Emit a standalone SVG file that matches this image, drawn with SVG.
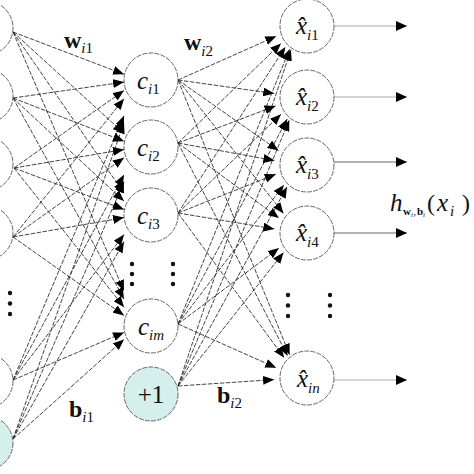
<svg xmlns="http://www.w3.org/2000/svg" width="474" height="474" viewBox="0 0 474 474">
<style>
text{font-family:"Liberation Serif","Times New Roman",serif;fill:#111}
.n{fill:#fff;stroke:#555;stroke-width:0.9;stroke-dasharray:5 1.2}
.bias{fill:#d5efed}
.e{stroke:#222;stroke-width:0.85;stroke-dasharray:4.5 1.5;fill:none;marker-end:url(#ah)}
.o{stroke:#aaa;stroke-width:1;fill:none;marker-end:url(#oa)}
.od{stroke:#666}
.v{font-style:italic;font-size:25px}
.s{font-style:italic;font-size:15px}
.sn{font-style:normal;font-size:15px}
.bw{font-weight:bold;font-size:24px}
.dot{fill:#111}
</style>
<defs>
<marker id="ah" markerUnits="userSpaceOnUse" viewBox="0 0 11 9" markerWidth="11" markerHeight="9" refX="11" refY="4.5" orient="auto"><path d="M0,0 L11,4.5 L0,9 z" fill="#000"/></marker>
<marker id="oa" markerUnits="userSpaceOnUse" viewBox="0 0 11 10" markerWidth="11" markerHeight="10" refX="11" refY="5" orient="auto"><path d="M0,0 L11,5 L0,10 z" fill="#000"/></marker>
</defs>
<g id="connectors">
<g id="layer1">
<line class="e" x1="13" y1="32" x2="124" y2="74.3"/>
<line class="e" x1="13" y1="98" x2="124" y2="82.1"/>
<line class="e" x1="14" y1="168" x2="124" y2="90.5"/>
<line class="e" x1="13" y1="237" x2="124" y2="98.7"/>
<line class="e" x1="13" y1="380" x2="124" y2="115.7"/>
<line class="e" x1="13" y1="439" x2="124" y2="122.7"/>
<line class="e" x1="13" y1="32" x2="124" y2="133.3"/>
<line class="e" x1="13" y1="98" x2="124" y2="141.2"/>
<line class="e" x1="14" y1="168" x2="124" y2="149.5"/>
<line class="e" x1="13" y1="237" x2="124" y2="157.7"/>
<line class="e" x1="13" y1="380" x2="124" y2="174.7"/>
<line class="e" x1="13" y1="439" x2="124" y2="181.7"/>
<line class="e" x1="13" y1="32" x2="124" y2="193.2"/>
<line class="e" x1="13" y1="98" x2="124" y2="201.1"/>
<line class="e" x1="14" y1="168" x2="124" y2="209.4"/>
<line class="e" x1="13" y1="237" x2="124" y2="217.6"/>
<line class="e" x1="13" y1="380" x2="124" y2="234.6"/>
<line class="e" x1="13" y1="439" x2="124" y2="241.7"/>
<line class="e" x1="13" y1="32" x2="124" y2="291"/>
<line class="e" x1="13" y1="98" x2="124" y2="298.9"/>
<line class="e" x1="14" y1="168" x2="124" y2="307.2"/>
<line class="e" x1="13" y1="237" x2="124" y2="315.4"/>
<line class="e" x1="13" y1="380" x2="124" y2="332.4"/>
<line class="e" x1="13" y1="439" x2="124" y2="339.4"/>
</g>
<g id="layer2">
<line class="e" x1="178" y1="80" x2="276.2" y2="36.2"/>
<line class="e" x1="178" y1="143" x2="281" y2="43.4"/>
<line class="e" x1="178" y1="213" x2="285.4" y2="47"/>
<line class="e" x1="178" y1="324" x2="289.6" y2="49.2"/>
<line class="e" x1="178" y1="386" x2="291" y2="49.7"/>
<line class="e" x1="178" y1="80" x2="274.2" y2="93.5"/>
<line class="e" x1="178" y1="143" x2="275.6" y2="105.9"/>
<line class="e" x1="178" y1="213" x2="281" y2="114.3"/>
<line class="e" x1="178" y1="324" x2="287.2" y2="119.1"/>
<line class="e" x1="178" y1="386" x2="289.3" y2="120.1"/>
<line class="e" x1="178" y1="80" x2="278.5" y2="150.6"/>
<line class="e" x1="178" y1="143" x2="274.4" y2="160.5"/>
<line class="e" x1="178" y1="213" x2="275.8" y2="174.2"/>
<line class="e" x1="178" y1="324" x2="283.9" y2="184.9"/>
<line class="e" x1="178" y1="386" x2="287" y2="186.9"/>
<line class="e" x1="178" y1="80" x2="283.5" y2="213.4"/>
<line class="e" x1="178" y1="143" x2="278.9" y2="218.1"/>
<line class="e" x1="178" y1="213" x2="274.3" y2="228.9"/>
<line class="e" x1="178" y1="324" x2="279" y2="248"/>
<line class="e" x1="178" y1="386" x2="283.5" y2="252.6"/>
<line class="e" x1="178" y1="80" x2="289.6" y2="354.8"/>
<line class="e" x1="178" y1="143" x2="287.6" y2="355.8"/>
<line class="e" x1="178" y1="213" x2="284.2" y2="357.8"/>
<line class="e" x1="178" y1="324" x2="276.2" y2="367.8"/>
<line class="e" x1="178" y1="386" x2="274.1" y2="379.6"/>
</g>
<g id="outputs">
<line class="o" x1="334" y1="26" x2="407" y2="26"/>
<line class="o" x1="334" y1="97" x2="407" y2="97"/>
<line class="o od" x1="334" y1="162" x2="407" y2="162"/>
<line class="o od" x1="334" y1="233" x2="407" y2="233"/>
<line class="o" x1="334" y1="380" x2="407" y2="380"/>
</g>
</g>
<g id="input-layer">
<g id="x1"><circle class="n" cx="-14" cy="28" r="27"/></g>
<g id="x2"><circle class="n" cx="-14" cy="96" r="27"/></g>
<g id="x3"><circle class="n" cx="-14" cy="164" r="27"/></g>
<g id="x4"><circle class="n" cx="-14" cy="233" r="27"/></g>
<g id="x-dots"><circle class="dot" cx="10" cy="293" r="2.2"/><circle class="dot" cx="10" cy="303.5" r="2.2"/><circle class="dot" cx="10" cy="314" r="2.2"/></g>
<g id="xn"><circle class="n" cx="-14" cy="381" r="27"/></g>
<g id="bias1"><circle class="n bias" cx="-14" cy="443" r="27"/></g>
</g>
<g id="hidden-layer">
<g id="c1"><circle class="n" cx="151" cy="80" r="27"/><text x="137" y="89" class="v">c<tspan class="s" dy="5">i</tspan><tspan class="sn">1</tspan></text></g>
<g id="c2"><circle class="n" cx="151" cy="147" r="27"/><text x="137" y="156" class="v">c<tspan class="s" dy="5">i</tspan><tspan class="sn">2</tspan></text></g>
<g id="c3"><circle class="n" cx="151" cy="215" r="27"/><text x="137" y="224" class="v">c<tspan class="s" dy="5">i</tspan><tspan class="sn">3</tspan></text></g>
<g id="c-dots"><circle class="dot" cx="132" cy="264" r="2.2"/><circle class="dot" cx="132" cy="274" r="2.2"/><circle class="dot" cx="132" cy="284" r="2.2"/><circle class="dot" cx="173" cy="264" r="2.2"/><circle class="dot" cx="173" cy="274" r="2.2"/><circle class="dot" cx="173" cy="284" r="2.2"/></g>
<g id="cm"><circle class="n" cx="151" cy="326" r="27"/><text x="138" y="335" class="v">c<tspan class="s" dy="5">im</tspan></text></g>
<g id="bias2"><circle class="n bias" cx="151" cy="394" r="27"/><text x="151" y="403" text-anchor="middle" font-size="25">+1</text></g>
</g>
<g id="output-layer">
<g id="o1"><circle class="n" cx="307" cy="26" r="27"/><text x="296" y="34" class="v">x&#x302;<tspan class="s" dy="6">i</tspan><tspan class="sn">1</tspan></text></g>
<g id="o2"><circle class="n" cx="307" cy="97" r="27"/><text x="296" y="105" class="v">x&#x302;<tspan class="s" dy="6">i</tspan><tspan class="sn">2</tspan></text></g>
<g id="o3"><circle class="n" cx="307" cy="165" r="27"/><text x="296" y="173" class="v">x&#x302;<tspan class="s" dy="6">i</tspan><tspan class="sn">3</tspan></text></g>
<g id="o4"><circle class="n" cx="307" cy="233" r="27"/><text x="296" y="241" class="v">x&#x302;<tspan class="s" dy="6">i</tspan><tspan class="sn">4</tspan></text></g>
<g id="o-dots"><circle class="dot" cx="288" cy="295" r="2.2"/><circle class="dot" cx="288" cy="305.5" r="2.2"/><circle class="dot" cx="288" cy="316" r="2.2"/><circle class="dot" cx="330" cy="295" r="2.2"/><circle class="dot" cx="330" cy="305.5" r="2.2"/><circle class="dot" cx="330" cy="316" r="2.2"/></g>
<g id="on"><circle class="n" cx="307" cy="378" r="27"/><text x="297" y="387" class="v">x&#x302;<tspan class="s" dy="6">in</tspan></text></g>
</g>
<g id="labels">
<text x="64" y="48" class="bw">w<tspan class="s" font-weight="normal" dy="5">i</tspan><tspan class="sn" font-weight="normal">1</tspan></text>
<text x="184" y="50" class="bw">w<tspan class="s" font-weight="normal" dy="6">i</tspan><tspan class="sn" font-weight="normal">2</tspan></text>
<text x="69" y="417" class="bw">b<tspan class="s" font-weight="normal" dy="5">i</tspan><tspan class="sn" font-weight="normal">1</tspan></text>
<text x="217" y="403" class="bw">b<tspan class="s" font-weight="normal" dy="5">i</tspan><tspan class="sn" font-weight="normal">2</tspan></text>
<text x="390" y="211" class="v">h</text>
<text x="403" y="215" font-size="11" font-weight="bold">w</text>
<text x="411" y="217" font-size="7" font-style="italic">i</text>
<text x="413.5" y="215" font-size="10">,</text>
<text x="417" y="215" font-size="11" font-weight="bold">b</text>
<text x="423" y="217" font-size="7" font-style="italic">i</text>
<text x="427" y="211" font-size="24">(</text>
<text x="437" y="211" class="v">x</text>
<text x="450" y="216" class="s" font-size="13">i</text>
<text x="462" y="211" font-size="24">)</text>
</g>
</svg>
